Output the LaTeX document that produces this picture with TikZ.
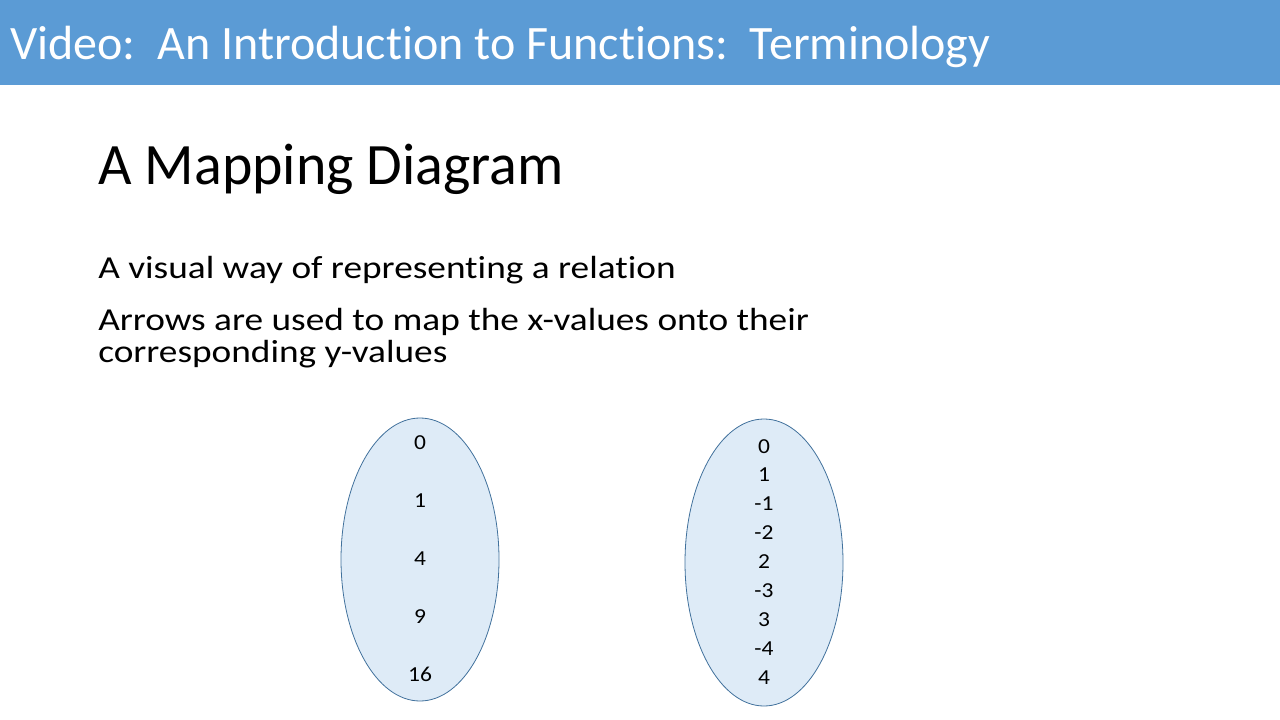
\documentclass[tikz,border=0pt]{standalone}
\usepackage{fontspec}
\setmainfont{Carlito}[Ligatures=NoCommon]
\usetikzlibrary{shapes.geometric}
\definecolor{barblue}{HTML}{5B9BD5}
\definecolor{setfill}{HTML}{DEEBF7}
\definecolor{setline}{HTML}{41719C}
\newcommand{\widetext}[2]{\scalebox{#1}[1]{#2}}
\begin{document}
\begin{tikzpicture}[x=0.75pt,y=-0.75pt,
    txt/.style={anchor=base west,inner sep=0pt},
    body/.style={txt,font=\fontsize{24}{29}\selectfont},
    setbox/.style={ellipse,draw=setline,fill=setfill,line width=0.6pt,inner sep=0pt,minimum width=118.5pt},
    val/.style={anchor=base,inner sep=0pt,font=\fontsize{16}{19}\selectfont}]
  \useasboundingbox (0,0) rectangle (1280,720);
  \fill[barblue] (0,0) rectangle (1280,85);
  \node[txt,text=white,font=\fontsize{36}{43}\selectfont] (title) at (10,60) {Video:\ \ An Introduction to Functions:\ \ Terminology};

  \node[txt,font=\fontsize{44}{53}\selectfont] (heading) at (98,185) {\widetext{0.987}{A Mapping Diagram}};
  \node[body] (line1) at (98,278) {\widetext{1.166}{A visual way of representing a relation}};
  \node[body] (line2) at (98,330) {\widetext{1.166}{Arrows are used to map the x-values onto their}};
  \node[body] (line3) at (98,362) {\widetext{1.166}{corresponding y-values}};

  \node[setbox,minimum height=212.25pt] (xset) at (420,559.5) {};
  \node[setbox,minimum height=215.25pt] (yset) at (764,562.5) {};

  \foreach \v [count=\i] in {0,1,4,9,16}
    \node[val] (x\i) at (420,{449+58*(\i-1)}) {\widetext{1.1}{\v}};
  \foreach \v [count=\i] in {0,1,-1,-2,2,-3,3,-4,4}
    \node[val] (y\i) at (764,{453+28.9*(\i-1)}) {\widetext{1.1}{\v}};
\end{tikzpicture}
\end{document}
